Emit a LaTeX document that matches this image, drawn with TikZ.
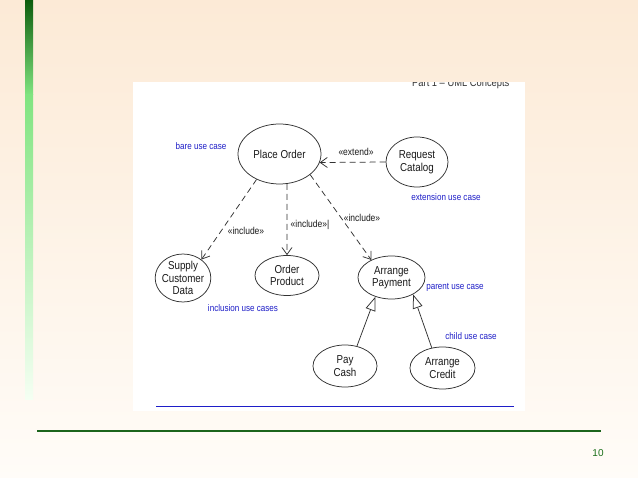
\documentclass[tikz,border=0pt]{standalone}
\usepackage{fontspec}
\setmainfont{Liberation Sans}
\newfontfamily\dfont[FakeStretch=0.85]{Liberation Sans}
\usetikzlibrary{shapes.geometric,arrows.meta}
\definecolor{bgtop}{RGB}{252,234,214}
\definecolor{bgbot}{RGB}{255,252,248}
\definecolor{gdark}{RGB}{12,92,12}
\definecolor{glight}{RGB}{128,228,128}
\definecolor{gfade}{RGB}{245,255,243}
\definecolor{gline}{RGB}{28,100,28}
\definecolor{gnum}{RGB}{24,110,24}
\definecolor{noteblue}{RGB}{30,30,200}
\definecolor{ink}{RGB}{50,50,50}
\tikzset{
  uc/.style={ellipse, draw=ink, line width=0.75pt, inner sep=-1.5pt, align=center,
    font=\dfont\fontsize{11.5}{12.5}\selectfont, text=black!90, fill=white},
  dep/.style={draw=ink, line width=0.75pt, dash pattern=on 6pt off 4pt,
    -{Straight Barb[length=7pt,width=10pt]}},
  gen/.style={draw=ink, line width=0.75pt,
    -{Triangle[open,length=14pt,width=10pt,fill=white]}},
  note/.style={text=noteblue, font=\dfont\fontsize{9.5}{10}\selectfont, inner sep=1pt},
  stereo/.style={text=black!90, font=\dfont\fontsize{10}{11}\selectfont, inner sep=1pt}
}
\begin{document}
\begin{tikzpicture}[x=1pt,y=-1pt]
\useasboundingbox (0,0) rectangle (638,478);
% background
\shade[top color=bgtop, bottom color=bgbot] (0,0) rectangle (638,478);
% green bar
\shade[top color=gdark, bottom color=glight] (25,0) rectangle (33,95);
\shade[top color=glight, bottom color=gfade] (25,95) rectangle (33,400);
% bottom rule and page number
\draw[gline, line width=2.5pt] (37,431) -- (601,431);
\node[text=gnum, font=\fontsize{10}{12}\selectfont] (num) at (598,453) {10};
% white panel
\fill[white] (133,82) rectangle (525,411);
\begin{scope}
\clip (133,82.5) rectangle (525,411);
\node[anchor=base west, inner sep=0pt, text=black!80, font=\dfont\fontsize{11}{12}\selectfont] (title) at (412,86.5) {Part 1 – UML Concepts};
\end{scope}
\draw[noteblue, line width=1pt] (156,407) -- (514,407);
% use cases
\node[uc, minimum width=83pt, minimum height=60pt] (po) at (279.5,154) {Place Order};
\node[uc, minimum width=62pt, minimum height=50pt] (rc) at (417,162) {Request\\Catalog};
\node[uc, minimum width=54pt, minimum height=48pt] (scd) at (183,278) {Supply\\Customer\\Data};
\node[uc, minimum width=64pt, minimum height=40pt] (op) at (287,275.5) {Order\\Product};
\node[uc, minimum width=67pt, minimum height=43pt] (ap) at (391.5,277.5) {Arrange\\Payment};
\node[uc, minimum width=64pt, minimum height=42pt] (pc) at (345,366) {Pay\\Cash};
\node[uc, minimum width=65pt, minimum height=42pt] (ac) at (442.5,368) {Arrange\\Credit};
% connectors
\draw[dep] (rc.west) -- (po.-12);
\draw[dep] (po.228) -- (scd.45);
\draw[dep] (po.-76) -- (op.north);
\draw[dep] (po.-34) -- (ap.139);
\draw[gen] (pc.59) -- (ap.-130);
\draw[gen] (ac.118) -- (ap.-38);
% labels
\node[note] (l1) at (201,146) {bare use case};
\node[stereo] (s1) at (356,152) {«extend»};
\node[note] (l2) at (446,197) {extension use case};
\node[stereo] (s2) at (246,231) {«include»};
\node[stereo] (s3) at (310,225) {«include»|};
\node[stereo] (s4) at (362,218) {«include»};
\node[note] (l3) at (455,287) {parent use case};
\node[note] (l4) at (243,308) {inclusion use cases};
\node[note] (l5) at (471,336) {child use case};
\end{tikzpicture}
\end{document}
